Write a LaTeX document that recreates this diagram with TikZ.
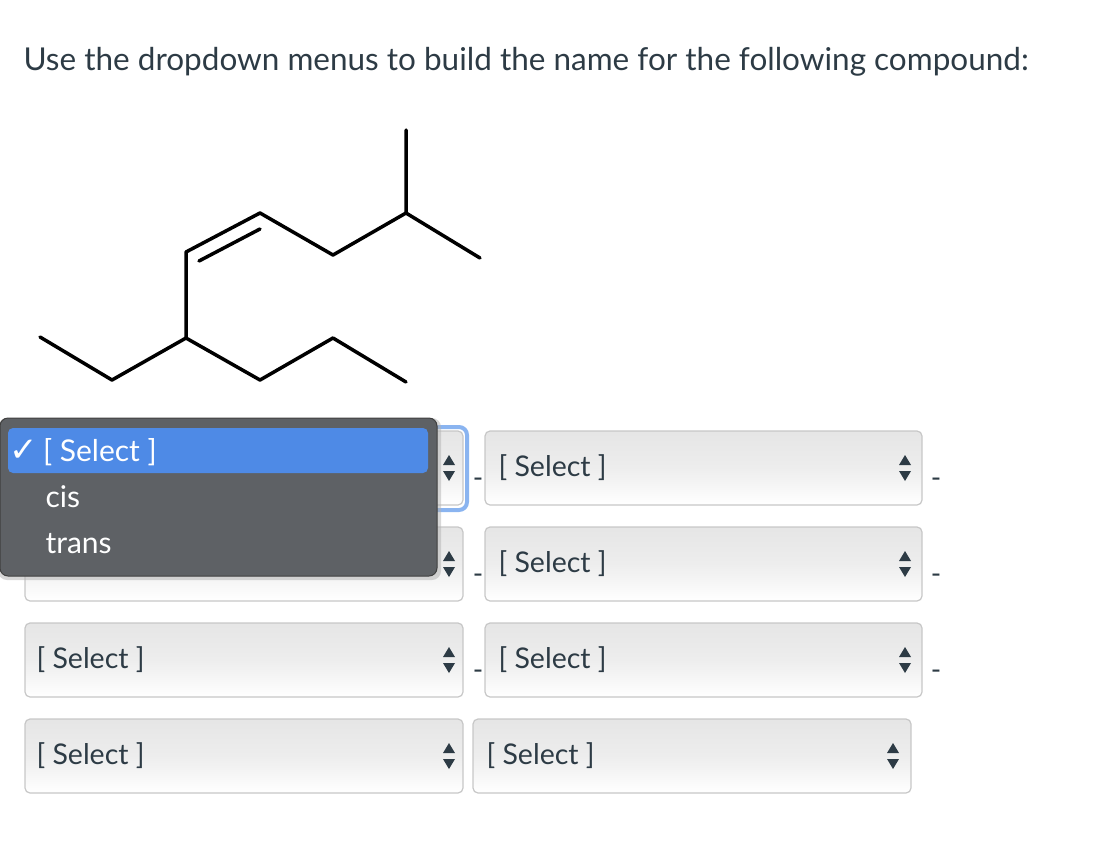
\documentclass[tikz,border=0pt]{standalone}
\usepackage{fontspec}
\setmainfont{Lato}
\newfontfamily\dejavu{DejaVu Sans}
\definecolor{txt}{HTML}{2D3B45}
\definecolor{menu}{HTML}{5E6165}
\definecolor{hl}{HTML}{4E8AE6}
\definecolor{ring}{HTML}{8AB4F0}
\begin{document}
\begin{tikzpicture}[x=1pt,y=-1pt,
  bond/.style={line width=3.5pt,line cap=round,line join=round,black},
  selbox/.style={draw=black!22,line width=1.2pt,rounded corners=5pt,top color=black!10,bottom color=white,middle color=black!7},
  seltext/.style={anchor=west,text=txt,font=\fontsize{28.5}{32}\selectfont},
  dashtext/.style={text=txt,font=\fontsize{28}{32}\selectfont}]
\useasboundingbox (0,0) rectangle (1110,860);
\node[anchor=west,text=txt,font=\fontsize{31.5}{36}\selectfont] (title) at (20,62) {Use the dropdown menus to build the name for the following compound:};
% molecule
\coordinate (a1) at (406,130); \coordinate (a2) at (406,213); \coordinate (a3) at (480,258);
\coordinate (a4) at (333,255); \coordinate (a5) at (260,213); \coordinate (a6) at (186,252);
\coordinate (a7) at (186,338); \coordinate (a8) at (112,380); \coordinate (a9) at (40,337);
\coordinate (b1) at (260,380); \coordinate (b2) at (333,338); \coordinate (b3) at (406,382);
\draw[bond] (a1)--(a2)--(a3); \draw[bond] (a2)--(a4)--(a5)--(a6)--(a7)--(a8)--(a9);
\draw[bond] (a7)--(b1)--(b2)--(b3);
\draw[bond] (260,229)--(199,261);
% arrows
\newcommand{\updn}[2]{\fill[txt] (#1-6,#2-3)--(#1+6,#2-3)--(#1,#2-13)--cycle; \fill[txt] (#1-6,#2+3)--(#1+6,#2+3)--(#1,#2+13)--cycle;}
% boxes
\draw[ring,line width=4pt,rounded corners=8pt] (21,427) rectangle (467,510);
\foreach \y/\n in {431/r1,527/r2,623/r3,719/r4}{
  \draw[selbox] (25,\y) rectangle (463,\y+74);
  \updn{449}{\y+37}
}
\foreach \y/\n in {431/r1,527/r2,623/r3}{
  \draw[selbox] (485,\y) rectangle (922,\y+74);
  \updn{905}{\y+37}
  \node[seltext] (c\n) at (495,\y+37) {[ Select ]};
  \node[dashtext] (d1\n) at (478,\y+52) {-};
  \node[dashtext] (d2\n) at (936,\y+52) {-};
}
\draw[selbox] (473,719) rectangle (911,793);
\updn{893}{756}
\node[seltext] (c4) at (483,756) {[ Select ]};
\node[seltext] (l3) at (33,660) {[ Select ]};
\node[seltext] (l4) at (33,756) {[ Select ]};
% menu
\fill[black!30,opacity=0.5,rounded corners=9pt] (-2,418) rectangle (441,580);
\draw[fill=menu,draw=black!75,line width=1pt,rounded corners=8pt] (0,418) rectangle (437,576);
\fill[hl,rounded corners=5pt] (8,428) rectangle (428,473);
\node[anchor=west,text=white,font=\fontsize{30}{34}\selectfont] (m1) at (6,452) {{\dejavu\fontsize{34}{38}\selectfont ✓}\,[ Select ]};
\node[anchor=west,text=white,font=\fontsize{30}{34}\selectfont] (m2) at (42,497) {cis};
\node[anchor=west,text=white,font=\fontsize{30}{34}\selectfont] (m3) at (42,544) {trans};
\end{tikzpicture}
\end{document}
